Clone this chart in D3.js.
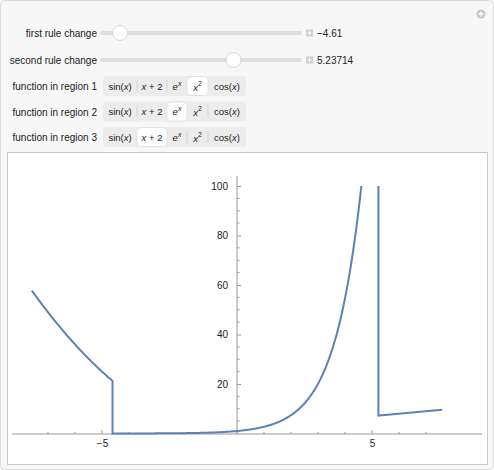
<!doctype html>
<html lang="en">
<head>
<meta charset="utf-8">
<title>piecewise manipulate</title>
<style>
  body { margin: 0; background: #fff; font-family: "Liberation Sans", "DejaVu Sans", sans-serif; }
</style>
</head>
<body>
<script src="https://cdnjs.cloudflare.com/ajax/libs/d3/7.8.5/d3.min.js"></script>
<script>
var w = 494, h = 470;

// controls
var ruleLabels = ["first rule change", "second rule change"];
var ruleValues = [-4.61, 5.23714];
var ruleText = ["\u22124.61", "5.23714"];
var regionLabels = ["function in region 1", "function in region 2", "function in region 3"];
var choices = ["sin", "x+2", "exp", "sq", "cos"];
var selected = [3, 2, 1];   // index into choices
// plot
var xTicks = [-5, 5];
var yTicks = [20, 40, 60, 80, 100];
var xMin = -7.6, xMax = 7.6, yMax = 100;

var funcs = {
  "sin": Math.sin,
  "x+2": function(x) { return x + 2; },
  "exp": Math.exp,
  "sq": function(x) { return x * x; },
  "cos": Math.cos
};

var svg = d3.select("body").append("svg").attr("width", w).attr("height", h);

// panel
svg.append("rect").attr("x", 0.5).attr("y", 0.5).attr("width", w - 1).attr("height", h - 1)
  .attr("rx", 4).attr("fill", "#f7f7f7").attr("stroke", "#dcdcdc");
svg.append("circle").attr("cx", 481).attr("cy", 14).attr("r", 4.5).attr("fill", "#c8c8c8");
svg.append("path").attr("d", "M478.5,14h5M481,11.5v5").attr("stroke", "#fff").attr("stroke-width", 1.3);

// sliders
var sx = d3.scaleLinear().domain([-6, 11]).range([104, 300]);
ruleLabels.forEach(function(lab, i) {
  var y = 33 + i * 27;
  svg.append("text").attr("x", 97).attr("y", y + 4).attr("text-anchor", "end")
    .attr("font-size", 10).attr("fill", "#222").text(lab);
  svg.append("line").attr("x1", 102).attr("x2", 300).attr("y1", y).attr("y2", y)
    .attr("stroke", "#dedede").attr("stroke-width", 4).attr("stroke-linecap", "round");
  svg.append("circle").attr("cx", sx(ruleValues[i])).attr("cy", y).attr("r", 7.5)
    .attr("fill", "#fff").attr("stroke", "#cfcfcf").attr("stroke-width", 0.8);
  svg.append("rect").attr("x", 306).attr("y", y - 3.5).attr("width", 7).attr("height", 7)
    .attr("fill", "#cfcfcf");
  svg.append("path").attr("d", "M307.5," + y + "h4M309.5," + (y - 2) + "v4").attr("stroke", "#fff");
  svg.append("text").attr("x", 317).attr("y", y + 4).attr("font-size", 10).attr("fill", "#222").text(ruleText[i]);
});

// setter bars
var segX = [103, 137, 167, 187, 208, 246];
function drawLabel(g, k, cx, cy) {
  var t = g.append("text").attr("x", cx).attr("y", cy + 3.5).attr("text-anchor", "middle")
    .attr("font-size", 9.5).attr("fill", "#222");
  if (k === 0) { t.append("tspan").text("sin("); t.append("tspan").attr("font-style", "italic").text("x"); t.append("tspan").text(")"); }
  if (k === 1) { t.append("tspan").attr("font-style", "italic").text("x"); t.append("tspan").text(" + 2"); }
  if (k === 2) { t.append("tspan").attr("font-style", "italic").text("e"); t.append("tspan").attr("font-style", "italic").attr("font-size", 7).attr("dy", -4).text("x"); }
  if (k === 3) { t.append("tspan").attr("font-style", "italic").attr("dy", 1).text("x"); t.append("tspan").attr("font-size", 7).attr("dy", -5).text("2"); }
  if (k === 4) { t.append("tspan").text("cos("); t.append("tspan").attr("font-style", "italic").text("x"); t.append("tspan").text(")"); }
}
regionLabels.forEach(function(lab, i) {
  var y = 86 + i * 25.5;
  svg.append("text").attr("x", 97).attr("y", y + 4).attr("text-anchor", "end")
    .attr("font-size", 10).attr("fill", "#222").text(lab);
  var g = svg.append("g");
  g.append("rect").attr("x", segX[0]).attr("y", y - 10).attr("width", segX[5] - segX[0]).attr("height", 20)
    .attr("rx", 4).attr("fill", "#ececec");
  var s = selected[i];
  g.append("rect").attr("x", segX[s]).attr("y", y - 9.5).attr("width", segX[s + 1] - segX[s]).attr("height", 19)
    .attr("rx", 4).attr("fill", "#fff").attr("stroke", "#d6d6d6").attr("stroke-width", 0.6);
  for (var k = 1; k < 5; k++) {
    if (k !== s && k !== s + 1)
      g.append("line").attr("x1", segX[k]).attr("x2", segX[k]).attr("y1", y - 6).attr("y2", y + 6).attr("stroke", "#d2d2d2");
  }
  choices.forEach(function(c, k) { drawLabel(g, k, (segX[k] + segX[k + 1]) / 2, y); });
});

// plot frame
svg.append("rect").attr("x", 7.5).attr("y", 152.5).attr("width", 480).attr("height", 312)
  .attr("fill", "#fff").attr("stroke", "#c8c8c8");

var x = d3.scaleLinear().domain([0, 5]).range([237, 372]);
var y = d3.scaleLinear().domain([0, 100]).range([433.5, 186]);

svg.append("g").attr("transform", "translate(0,434)")
  .call(d3.axisBottom(x).tickValues(xTicks).tickSize(0).tickPadding(6)
    .tickFormat(function(d) { return d < 0 ? "\u2212" + (-d) : d; }))
  .call(function(g) {
    g.select(".domain").attr("d", "M12,0H482").attr("stroke", "#999");
    g.selectAll("text").attr("font-size", 10).attr("fill", "#222").attr("font-family", "Liberation Sans, sans-serif");
  });
// minor x ticks
svg.append("g").selectAll("line").data(d3.range(-7, 8)).enter().append("line")
  .attr("x1", function(d) { return x(d); }).attr("x2", function(d) { return x(d); })
  .attr("y1", 434).attr("y2", function(d) { return d % 5 === 0 ? 430 : 432; }).attr("stroke", "#999");

svg.append("g").attr("transform", "translate(237,0)")
  .call(d3.axisLeft(y).tickValues(yTicks).tickSize(4).tickPadding(5))
  .call(function(g) {
    g.select(".domain").attr("d", "M0,434V176").attr("stroke", "#999");
    g.selectAll(".tick line").attr("x2", 4).attr("x1", 0).attr("stroke", "#999");
    g.selectAll("text").attr("font-size", 10).attr("fill", "#222").attr("font-family", "Liberation Sans, sans-serif");
  });
svg.append("g").selectAll("line").data(d3.range(5, 105, 5).filter(function(d) { return d % 20; })).enter().append("line")
  .attr("x1", 237).attr("x2", 239.5).attr("y1", function(d) { return y(d); }).attr("y2", function(d) { return y(d); })
  .attr("stroke", "#999");

// piecewise curve
var bounds = [xMin, ruleValues[0], ruleValues[1], xMax];
var pts = [];
for (var r = 0; r < 3; r++) {
  var f = funcs[choices[selected[r]]];
  var a = bounds[r], b = bounds[r + 1], n = 300;
  for (var j = 0; j <= n; j++) {
    var xv = a + (b - a) * j / n;
    pts.push([xv, f(xv)]);
  }
}
var line = d3.line()
  .defined(function(d) { return d[1] <= yMax + 0.01; })
  .x(function(d) { return x(d[0]); })
  .y(function(d) { return y(Math.min(d[1], yMax)); });
// clip to yMax exactly by inserting boundary points
var clipped = [];
pts.forEach(function(p, i) {
  if (i > 0) {
    var q = pts[i - 1];
    if ((q[1] - yMax) * (p[1] - yMax) < 0 && Math.abs(p[0] - q[0]) < 0.1) {
      var t = (yMax - q[1]) / (p[1] - q[1]);
      clipped.push([q[0] + t * (p[0] - q[0]), yMax]);
    }
    if (q[1] > yMax && p[1] > yMax === false && Math.abs(p[0] - q[0]) < 1e-9) clipped.push([p[0], yMax]);
  }
  clipped.push(p);
});
// vertical jump from above the range down into region 3
var outP = [];
clipped.forEach(function(p, i) {
  var q = clipped[i - 1];
  if (q && q[1] > yMax && p[1] <= yMax) outP.push([p[0], yMax]);
  outP.push(p);
});
svg.append("path").datum(outP).attr("d", line)
  .attr("fill", "none").attr("stroke", "#5e81b5").attr("stroke-width", 2);
</script>
</body>
</html>
